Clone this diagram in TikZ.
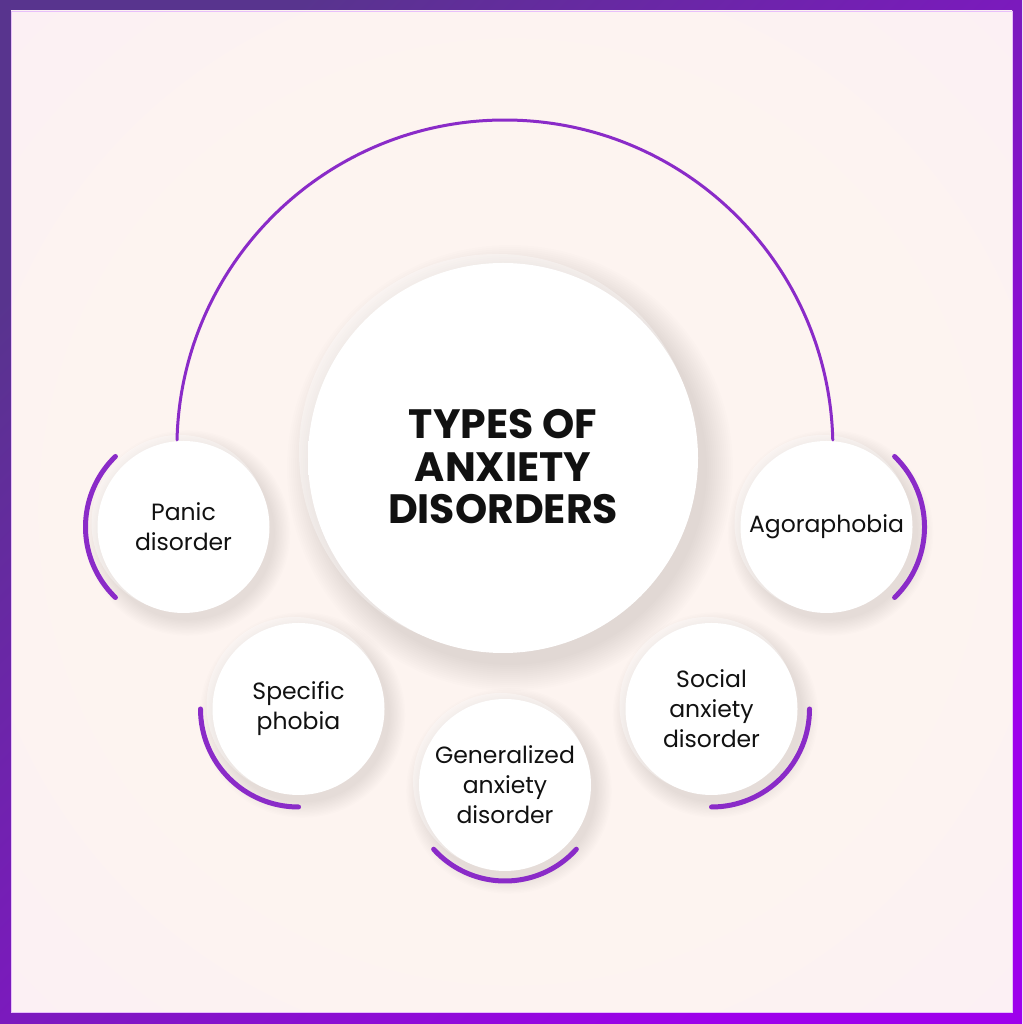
\documentclass[tikz,border=0pt]{standalone}
\usepackage{fontspec}
\setmainfont{Poppins}
\usetikzlibrary{calc}
\definecolor{frameA}{RGB}{88,52,142}
\definecolor{frameB}{RGB}{158,0,236}
\definecolor{arcc}{RGB}{138,43,200}
\definecolor{bgin}{RGB}{253,244,240}
\definecolor{bgmid}{RGB}{251,238,246}
\definecolor{bgout}{RGB}{245,230,252}
\definecolor{ink}{RGB}{17,17,17}
\pgfdeclarelayer{bglayer}
\pgfdeclarelayer{shadelayer}
\pgfsetlayers{bglayer,shadelayer,main}
\pgfdeclareradialshading{bubshade}{\pgfpoint{-8bp}{8bp}}{color(0bp)=(white); color(40bp)=(white); color(62bp)=(black!6); color(80bp)=(black!6)}
\pgfdeclareradialshading{bgshade}{\pgfpoint{0bp}{0bp}}{color(0bp)=(bgin); color(22bp)=(bgin); color(42bp)=(bgmid); color(58bp)=(bgout); color(71bp)=(bgout)}
\tikzset{
  bubble/.style={circle, fill=white, inner sep=0pt, minimum size=172pt, text=ink, align=center,
    font=\fontsize{23.5}{30}\selectfont},
  hub/.style={circle, shading=bubshade, inner sep=0pt, minimum size=390pt},
  title/.style={text=ink, align=center, inner sep=0pt, font=\fontsize{41}{42.5}\selectfont\bfseries},
  ring/.style={draw=arcc, line width=5pt, line cap=round},
  bigring/.style={draw=arcc, line width=3pt, line cap=round},
}
\begin{document}
\begin{tikzpicture}[x=1pt,y=1pt]
\useasboundingbox (0,0) rectangle (1022,1024);
\begin{pgfonlayer}{bglayer}
  \shade[top color=frameA, bottom color=frameB, shading angle=45] (0,0) rectangle (1022,1024);
  \shade[shading=bgshade] (11,12) rectangle (1012,1013);
  \draw[frameB!25!white, line width=0.8pt] (11,12) rectangle (1012,1013);
\end{pgfonlayer}

\node[hub] (T) at (503,566) {};
\node[title] (TT) at ([yshift=-9]T.center) {TYPES OF\\ANXIETY\\DISORDERS};
\node[bubble] (P) at (183.5,497) {Panic\\disorder};
\node[bubble] (A) at (826.5,497) {Agoraphobia};
\node[bubble] (S) at (298.5,315) {Specific\\phobia};
\node[bubble] (G) at (505,239) {Generalized\\anxiety\\disorder};
\node[bubble] (O) at (711.5,315) {Social\\anxiety\\disorder};

\begin{pgfonlayer}{shadelayer}
  \foreach \k in {1,...,14}{
    \fill[black,opacity=0.007] ([shift={(7,-10)}]T.center) circle[radius=195+\k*2];
  }
  \fill[white,opacity=0.35] ([shift={(-6,6)}]T.center) circle[radius=198];
  \foreach \n in {P,A,S,G,O}{
    \foreach \k in {1,...,12}{
      \fill[black,opacity=0.007] ([shift={(4,-6)}]\n.center) circle[radius=86+\k*1.4];
    }
    \fill[white,opacity=0.35] ([shift={(-4,4)}]\n.center) circle[radius=88];
  }
\end{pgfonlayer}

\coordinate (L) at (177,584);
\draw[bigring] (L) arc[start angle=178.6, end angle=1.4, radius=328];

\draw[ring] ([shift={(134:98)}]P.center) arc[start angle=134, end angle=226, radius=98];
\draw[ring] ([shift={(46:98)}]A.center) arc[start angle=46, end angle=-46, radius=98];
\draw[ring] ([shift={(180:98)}]S.center) arc[start angle=180, end angle=270, radius=98];
\draw[ring] ([shift={(222:96)}]G.center) arc[start angle=222, end angle=318, radius=96];
\draw[ring] ([shift={(270:98)}]O.center) arc[start angle=270, end angle=360, radius=98];
\end{tikzpicture}
\end{document}
